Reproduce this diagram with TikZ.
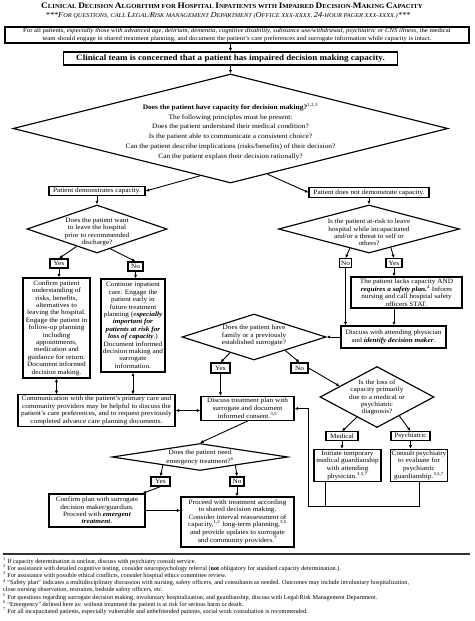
\documentclass[tikz,border=0pt]{standalone}
\usepackage{fontspec}
\setmainfont{Liberation Serif}[FakeStretch=1.1]
\newfontfamily\fnfont{Liberation Serif}
\usetikzlibrary{shapes.geometric,arrows.meta,calc}
\newcommand{\bigc}[1]{{\fontsize{8.4}{9}\selectfont #1}}
\newcommand{\ibigc}[1]{{\fontsize{7.6}{9}\selectfont #1}}
\begin{document}
\begin{tikzpicture}[x=1pt,y=-1pt,
  every node/.style={inner sep=0pt},
  txt/.style={font=\fontsize{6.6}{7.4}\selectfont, align=center},
  box/.style={txt, draw, line width=1.15pt, fill=white, inner sep=1.5pt},
  tag/.style={box, inner sep=1pt},
  dia/.style={diamond, draw, line width=1.15pt, inner sep=0pt, fill=white},
  arr/.style={line width=0.9pt, -{Latex[length=3.6pt,width=3.2pt]}},
  darr/.style={line width=0.9pt, {Latex[length=3.6pt,width=3.2pt]}-{Latex[length=3.6pt,width=3.2pt]}},
  ln/.style={line width=0.9pt}
]
\fill[white] (0,0) rectangle (474,621);
\path[use as bounding box] (0,0) rectangle (474,621);

% titles
\node[font=\fontsize{6.1}{8}\selectfont\bfseries] (title) at (232,6) {\bigc{C}LINICAL \bigc{D}ECISION \bigc{A}LGORITHM FOR \bigc{H}OSPITAL \bigc{I}NPATIENTS WITH \bigc{I}MPAIRED \bigc{D}ECISION-\bigc{M}AKING \bigc{C}APACITY};
\node[font=\fontsize{5.8}{8}\selectfont\itshape] (sub) at (228,16) {{\fontsize{7.6}{9}\selectfont ***}\ibigc{F}OR QUESTIONS, CALL \ibigc{L}EGAL/\ibigc{R}ISK MANAGEMENT \ibigc{D}EPARTMENT (\ibigc{O}FFICE XXX-XXXX, \ibigc{24}-HOUR PAGER XXX-XXXX.){\fontsize{7.6}{9}\selectfont ***}};

% top boxes
\node[box, font=\fontsize{6.1}{7.2}\selectfont, minimum width=464pt, minimum height=16pt] (b0) at (237,35) {For all patients, \textit{especially those with advanced age, delirium, dementia, cognitive disability, substance use/withdrawal, psychiatric or CNS illness}, the medical\\ team should engage in shared treatment planning, and document the patient's care preferences and surrogate information while capacity is intact.};
\node[box, font=\fontsize{8.2}{9}\selectfont\bfseries, minimum width=334pt, minimum height=13pt] (b1) at (230.5,58.5) {Clinical team is concerned that a patient has impaired decision making capacity.};

% big diamond
\node[dia, minimum width=435pt, minimum height=109pt] (d1) at (230.5,128.5) {};
\node[txt, font=\fontsize{6.75}{9.8}\selectfont] (d1t) at (230.5,131.5) {\textbf{Does the patient have capacity for decision making?}\textsuperscript{1,2,3}\\ The following principles must be present:\\ Does the patient understand their medical condition?\\ Is the patient able to communicate a consistent choice?\\ Can the patient describe implications (risks/benefits) of their decision?\\ Can the patient explain their decision rationally?};

\node[tag, minimum width=96pt, minimum height=9.5pt] (cl) at (97,191) {Patient demonstrates capacity.};
\node[tag, minimum width=120pt, minimum height=9.5pt] (cr) at (369,192.5) {Patient does not demonstrate capacity.};

% left branch
\node[dia, minimum width=140pt, minimum height=48pt] (d2) at (97,229) {};
\node[txt] (d2t) at (97,232) {Does the patient want\\ to leave the hospital\\ prior to recommended\\ discharge?};
\node[tag, minimum width=18pt, minimum height=9pt] (y2) at (59,263.5) {Yes};
\node[tag, minimum width=15pt, minimum height=9pt] (n2) at (135.5,266.5) {No};
\node[box, minimum width=67pt, minimum height=100pt] (bc) at (56.5,328) {Confirm patient\\ understanding of\\ risks, benefits,\\ alternatives to\\ leaving the hospital.\\ Engage the patient in\\ follow-up planning\\ including\\ appointments,\\ medication and\\ guidance for return.\\ Document informed\\ decision making.};
\node[box, minimum width=64pt, minimum height=93pt] (bk) at (133,325.5) {Continue inpatient\\ care. Engage the\\ patient early in\\ future treatment\\ planning (e\textbf{\textit{specially}}\\ \textbf{\textit{important for}}\\ \textbf{\textit{patients at risk for}}\\ \textbf{\textit{loss of capacity}}.)\\ Document informed\\ decision making and\\ surrogate\\ information.};
\node[box, minimum width=157pt, minimum height=31pt] (bm) at (96.5,410.5) {Communication with the patient's primary care and\\ community providers may be helpful to discuss the\\ patient's care preferences, and to request previously\\ completed advance care planning documents.};

% right branch
\node[dia, minimum width=181pt, minimum height=48pt] (d3) at (369,229) {};
\node[txt] (d3t) at (369,232.5) {Is the patient at-risk to leave\\ hospital while incapacitated\\ and/or a threat to self or\\ others?};
\node[tag, minimum width=12pt, minimum height=8.5pt] (n3) at (345.5,263) {No};
\node[tag, minimum width=16pt, minimum height=8.5pt] (y3) at (394,263) {Yes};
\node[box, minimum width=111pt, minimum height=31pt] (b4) at (406.5,292.5) {The patient lacks capacity AND\\ \textbf{\textit{requires a safety plan.}}\textsuperscript{4} Inform\\ nursing and call hospital safety\\ officers STAT.};
\node[box, minimum width=105pt, minimum height=22pt] (b5) at (393.5,337) {Discuss with attending physician\\ and \textbf{\textit{identify decision maker}}.};

\node[dia, minimum width=144pt, minimum height=46pt] (d4) at (254,337) {};
\node[txt] (d4t) at (254,335.5) {Does the patient have\\ family or a previously\\ established surrogate?};
\node[tag, minimum width=19pt, minimum height=10pt] (y4) at (220.5,368) {Yes};
\node[tag, minimum width=17pt, minimum height=10pt] (n4) at (299.5,368) {No};
\node[box, minimum width=93pt, minimum height=24pt] (b6) at (247.5,408.5) {Discuss treatment plan with\\ surrogate and document\\ informed consent.\textsuperscript{3,5}};

\node[dia, minimum width=114pt, minimum height=61pt] (d5) at (377,397) {};
\node[txt] (d5t) at (377,397.5) {Is the loss of\\ capacity primarily\\ due to a medical or\\ psychiatric\\ diagnosis?};
\node[tag, minimum width=32pt, minimum height=8.5pt] (med) at (342,436) {Medical};
\node[tag, minimum width=39pt, minimum height=8.5pt] (psy) at (410.5,436) {Psychiatric};
\node[box, minimum width=67pt, minimum height=29pt] (b7) at (347.5,465.5) {Initiate temporary\\ medical guardianship\\ with attending\\ physician.\textsuperscript{3,5,7}};
\node[box, minimum width=56pt, minimum height=29pt] (b8) at (419,465.5) {Consult psychiatry\\ to evaluate for\\ psychiatric\\ guardianship.\textsuperscript{3,5,7}};

% emergency
\node[dia, minimum width=176pt, minimum height=27pt] (d6) at (200,457) {};
\node[txt] (d6t) at (200,457.5) {Does the patient need\\ emergency treatment?\textsuperscript{6}};
\node[tag, minimum width=19pt, minimum height=9pt] (y6) at (160.5,481.5) {Yes};
\node[tag, minimum width=14pt, minimum height=9pt] (n6) at (237,481.5) {No};
\node[box, minimum width=96pt, minimum height=33pt] (b9) at (97,510.5) {Confirm plan with surrogate\\ decision maker/guardian.\\ Proceed with \textbf{\textit{emergent}}\\ \textbf{\textit{treatment}}.};
\node[box, minimum width=113pt, minimum height=50pt] (b10) at (237.5,522) {Proceed with treatment according\\ to shared decision making.\\ Consider interval reassessment of\\ capacity,\textsuperscript{1,2} long-term planning,\textsuperscript{3,5}\\ and provide updates to surrogate\\ and community providers.\textsuperscript{7}};

% connectors
\draw[arr] (b1.north |- b0.south) -- (b1.north);
\draw[arr] (b1.south) -- (d1.north);
\draw[arr] ($(d1.west)!0.86!(d1.south)$) -- (cl.east);
\draw[arr] ($(d1.south)!0.17!(d1.east)$) -- (cr.west);
\draw[arr] (cl.south) -- (d2.north);
\draw[arr] ($(d2.west)!0.71!(d2.south)$) -- (y2.north);
\draw[arr] ($(d2.south)!0.19!(d2.east)$) -- (n2.north);
\draw[arr] (y2.south) -- (y2.south |- bc.north);
\draw[arr] (n2.south) -- (n2.south |- bk.north);
\draw[darr] (bc.south) -- (bc.south |- bm.north);
\draw[darr] (bk.south) -- (bk.south |- bm.north);
\draw[darr] (bm.east) -- (bm.east -| b6.west);
\draw[arr] (cr.south) -- (d3.north);
\draw[arr] ($(d3.west)!0.79!(d3.south)$) -- (n3.north);
\draw[arr] ($(d3.south)!0.24!(d3.east)$) -- (y3.north);
\draw[arr] (y3.south) -- (y3.south |- b4.north);
\draw[arr] (y3.south |- b4.south) -- (y3.south |- b5.north);
\draw[arr] (n3.south) -- (n3.south |- b5.north);
\draw[arr] (b5.west) -- (d4.east);
\draw[arr] ($(d4.west)!0.67!(d4.south)$) -- (y4.north);
\draw[arr] ($(d4.south)!0.43!(d4.east)$) -- (n4.north);
\draw[arr] (y4.south) -- (y4.south |- b6.north);
\draw[arr] (n4.east) -- ($(d5.west)!0.35!(d5.north)$);
\draw[arr] ($(d5.west)!0.65!(d5.south)$) -- (med.north);
\draw[arr] ($(d5.south)!0.39!(d5.east)$) -- (psy.north);
\draw[arr] (med.south) -- (med.south |- b7.north);
\draw[arr] (psy.south) -- (psy.south |- b8.north);
\coordinate (j1) at (325,506);
\coordinate (j2) at (419,506);
\coordinate (j0) at (308,506);
\draw[ln] (j1 |- b7.south) -- (j1);
\draw[arr] (j2 |- b8.south) -- (j2) -- (j0) -- (j0 |- b6.east) -- (b6.east);
\draw[arr] (b6.south) -- (d6.north);
\draw[arr] ($(d6.west)!0.58!(d6.south)$) -- (y6.north);
\draw[arr] ($(d6.south)!0.4!(d6.east)$) -- (n6.north);
\draw[arr] (y6.south) -- ($(b9.north east)+(-3,0)$);
\draw[arr] (n6.south) -- (n6.south |- b10.north);
\draw[arr] (b9.east) -- (b9.east -| b10.west);

% footnotes
\coordinate (r0) at (3,554);
\coordinate (r1) at (470,554);
\draw[line width=1.3pt, black!80] (r0) -- (r1);
\node[anchor=north west, align=left, font=\fnfont\fontsize{6.2}{7.2}\selectfont] (fn) at (3,557.5) {\textsuperscript{1} If capacity determination is unclear, discuss with psychiatry consult service.\\
\textsuperscript{2} For assistance with detailed cognitive testing, consider neuropsychology referral (\textbf{not} obligatory for standard capacity determination.).\\
\textsuperscript{3} For assistance with possible ethical conflicts, consider hospital ethics committee review.\\
\textsuperscript{4} “Safety plan” indicates a multidisciplinary discussion with nursing, safety officers, and consultants as needed. Outcomes may include involuntary hospitalization,\\
close nursing observation, restraints, bedside safety officers, etc.\\
\textsuperscript{5} For questions regarding surrogate decision making, involuntary hospitalization, and guardianship, discuss with Legal/Risk Management Department.\\
\textsuperscript{6} “Emergency” defined here as: without treatment the patient is at risk for serious harm or death.\\
\textsuperscript{7} For all incapacitated patients, especially vulnerable and unbefriended patients, social work consultation is recommended.};
\end{tikzpicture}
\end{document}
